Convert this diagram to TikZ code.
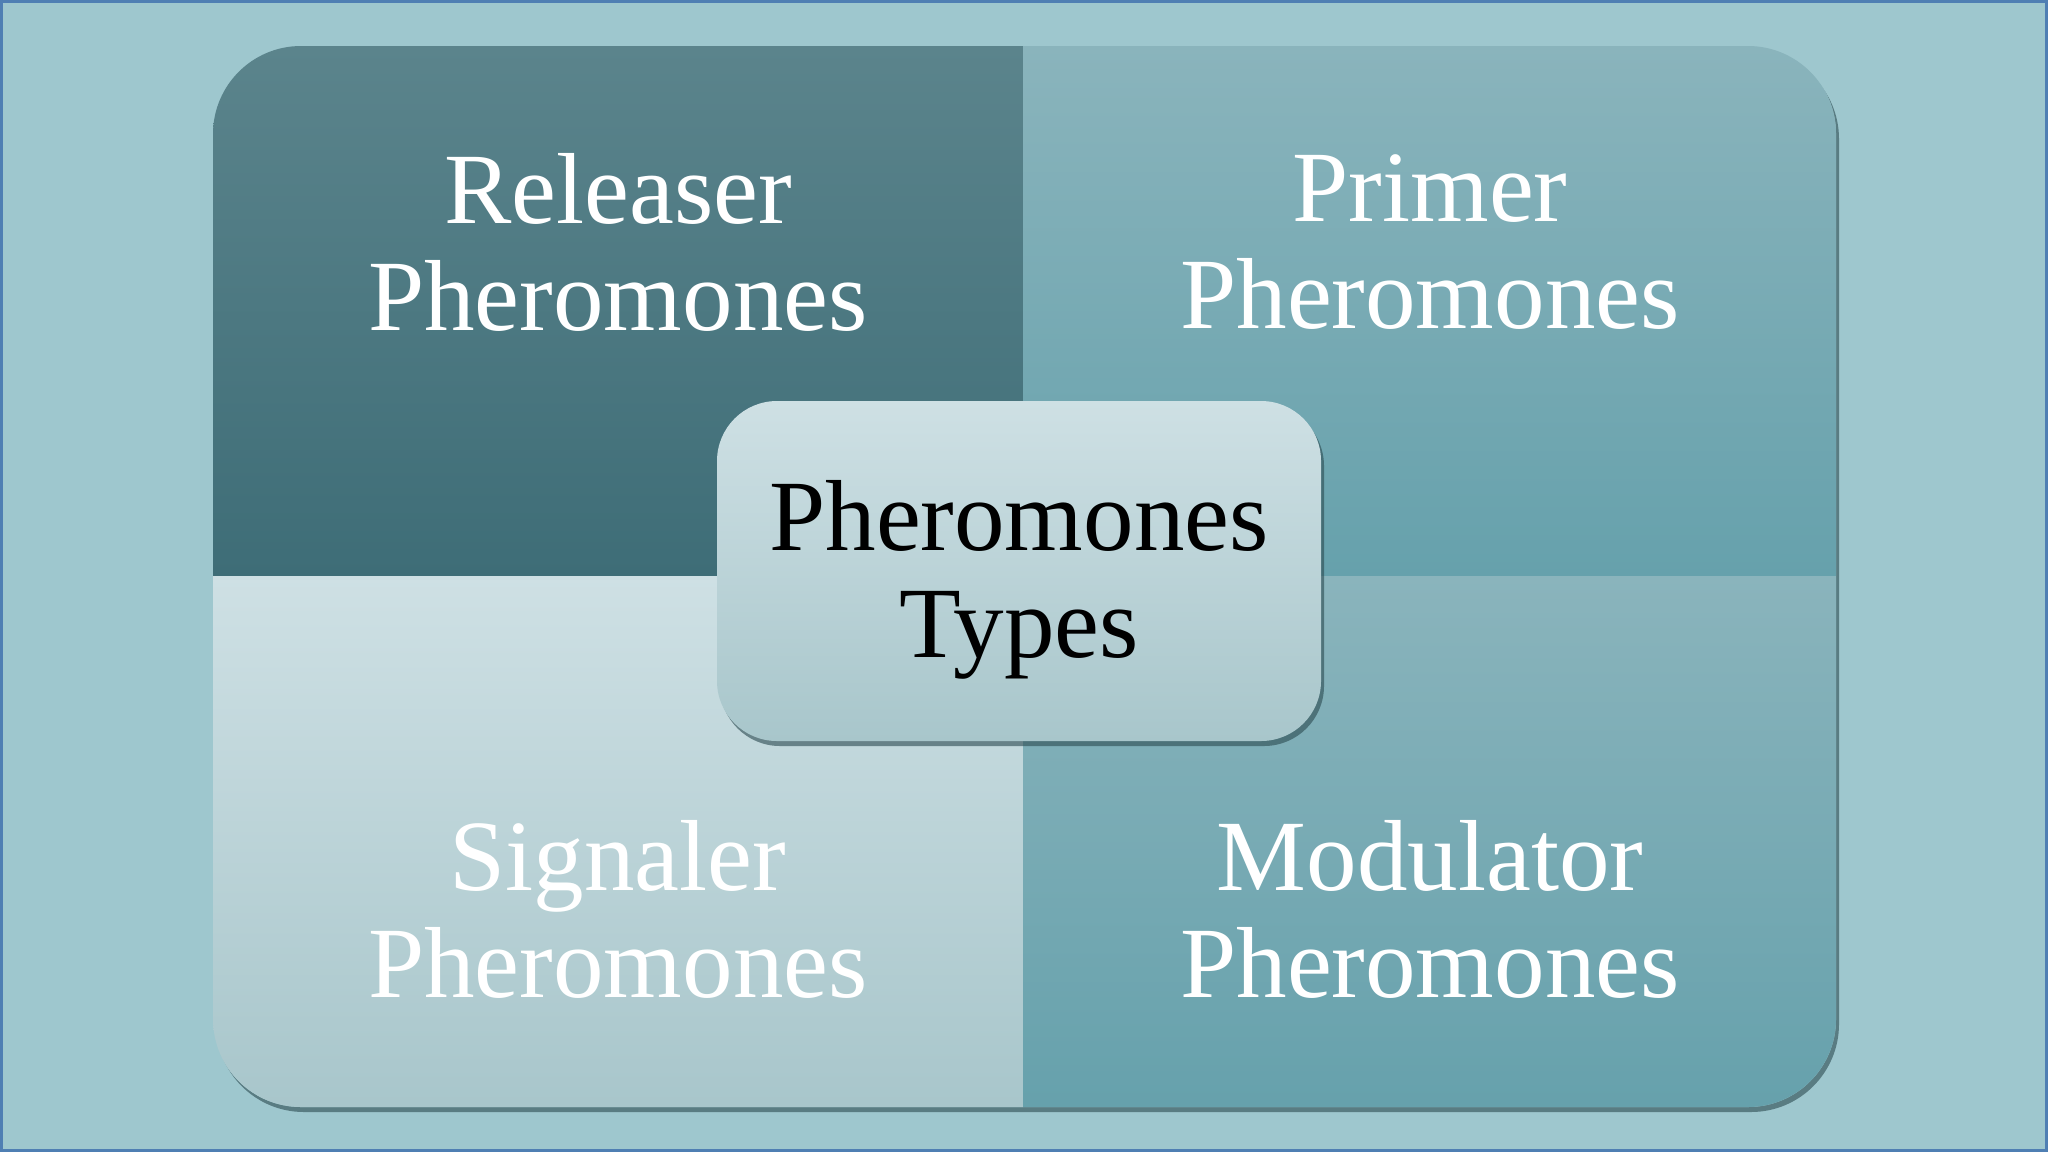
\documentclass[tikz,border=0pt]{standalone}
\usepackage{fontspec}
\setmainfont{Liberation Serif}
\usetikzlibrary{positioning, shadows}
\definecolor{pagebg}{HTML}{9EC7CE}
\definecolor{pageframe}{HTML}{4F7FB3}
\definecolor{darktop}{HTML}{5B848C}
\definecolor{darkbot}{HTML}{3E6D77}
\definecolor{midtop}{HTML}{8AB4BC}
\definecolor{midbot}{HTML}{66A1AC}
\definecolor{lighttop}{HTML}{CEE0E4}
\definecolor{lightbot}{HTML}{A8C6CB}
\definecolor{shadowcol}{HTML}{2B4A50}

\begin{document}
\begin{tikzpicture}[x=0.5pt, y=-0.5pt,
  typelabel/.style={align=center, text=white, font=\fontsize{50.5}{53.5}\selectfont},
  softshadow/.style={drop shadow={shadow xshift=1.5pt, shadow yshift=-2.5pt, opacity=0.6, fill=shadowcol}},
  centrebox/.style={rounded corners=30pt, minimum width=302pt, minimum height=170pt,
    top color=lighttop, bottom color=lightbot, softshadow}]
\useasboundingbox (0,0) rectangle (2048,1152);
% Page
\fill[pagebg] (0,0) rectangle (2048,1152);
\draw[pageframe, line width=1.5pt] (1.5,1.5) rectangle (2046.5,1150.5);

% Quadrants
\fill[pagebg, rounded corners=44pt, softshadow] (213,46) rectangle (1836,1107);
\begin{scope}
\clip[rounded corners=44pt] (213,46) rectangle (1836,1107);
\shade[top color=darktop, bottom color=darkbot] (213,46) rectangle (1023,576);
\shade[top color=midtop, bottom color=midbot] (1023,46) rectangle (1836,576);
\shade[top color=lighttop, bottom color=lightbot] (213,576) rectangle (1023,1107);
\shade[top color=midtop, bottom color=midbot] (1023,576) rectangle (1836,1107);
\end{scope}

\node[typelabel] (releaser) at (618,242) {Releaser\\Pheromones};
\node[typelabel] (primer) at (1430,242) {Primer\\Pheromones};
\node[typelabel] (signaler) at (618,909) {Signaler\\Pheromones};
\node[typelabel] (modulator) at (1430,909) {Modulator\\Pheromones};

% Centre
\node[centrebox] (types) at (1019,571) {};
\node[typelabel, text=black] (typestext) at (1019,580) {Pheromones\\Types};
\end{tikzpicture}
\end{document}
